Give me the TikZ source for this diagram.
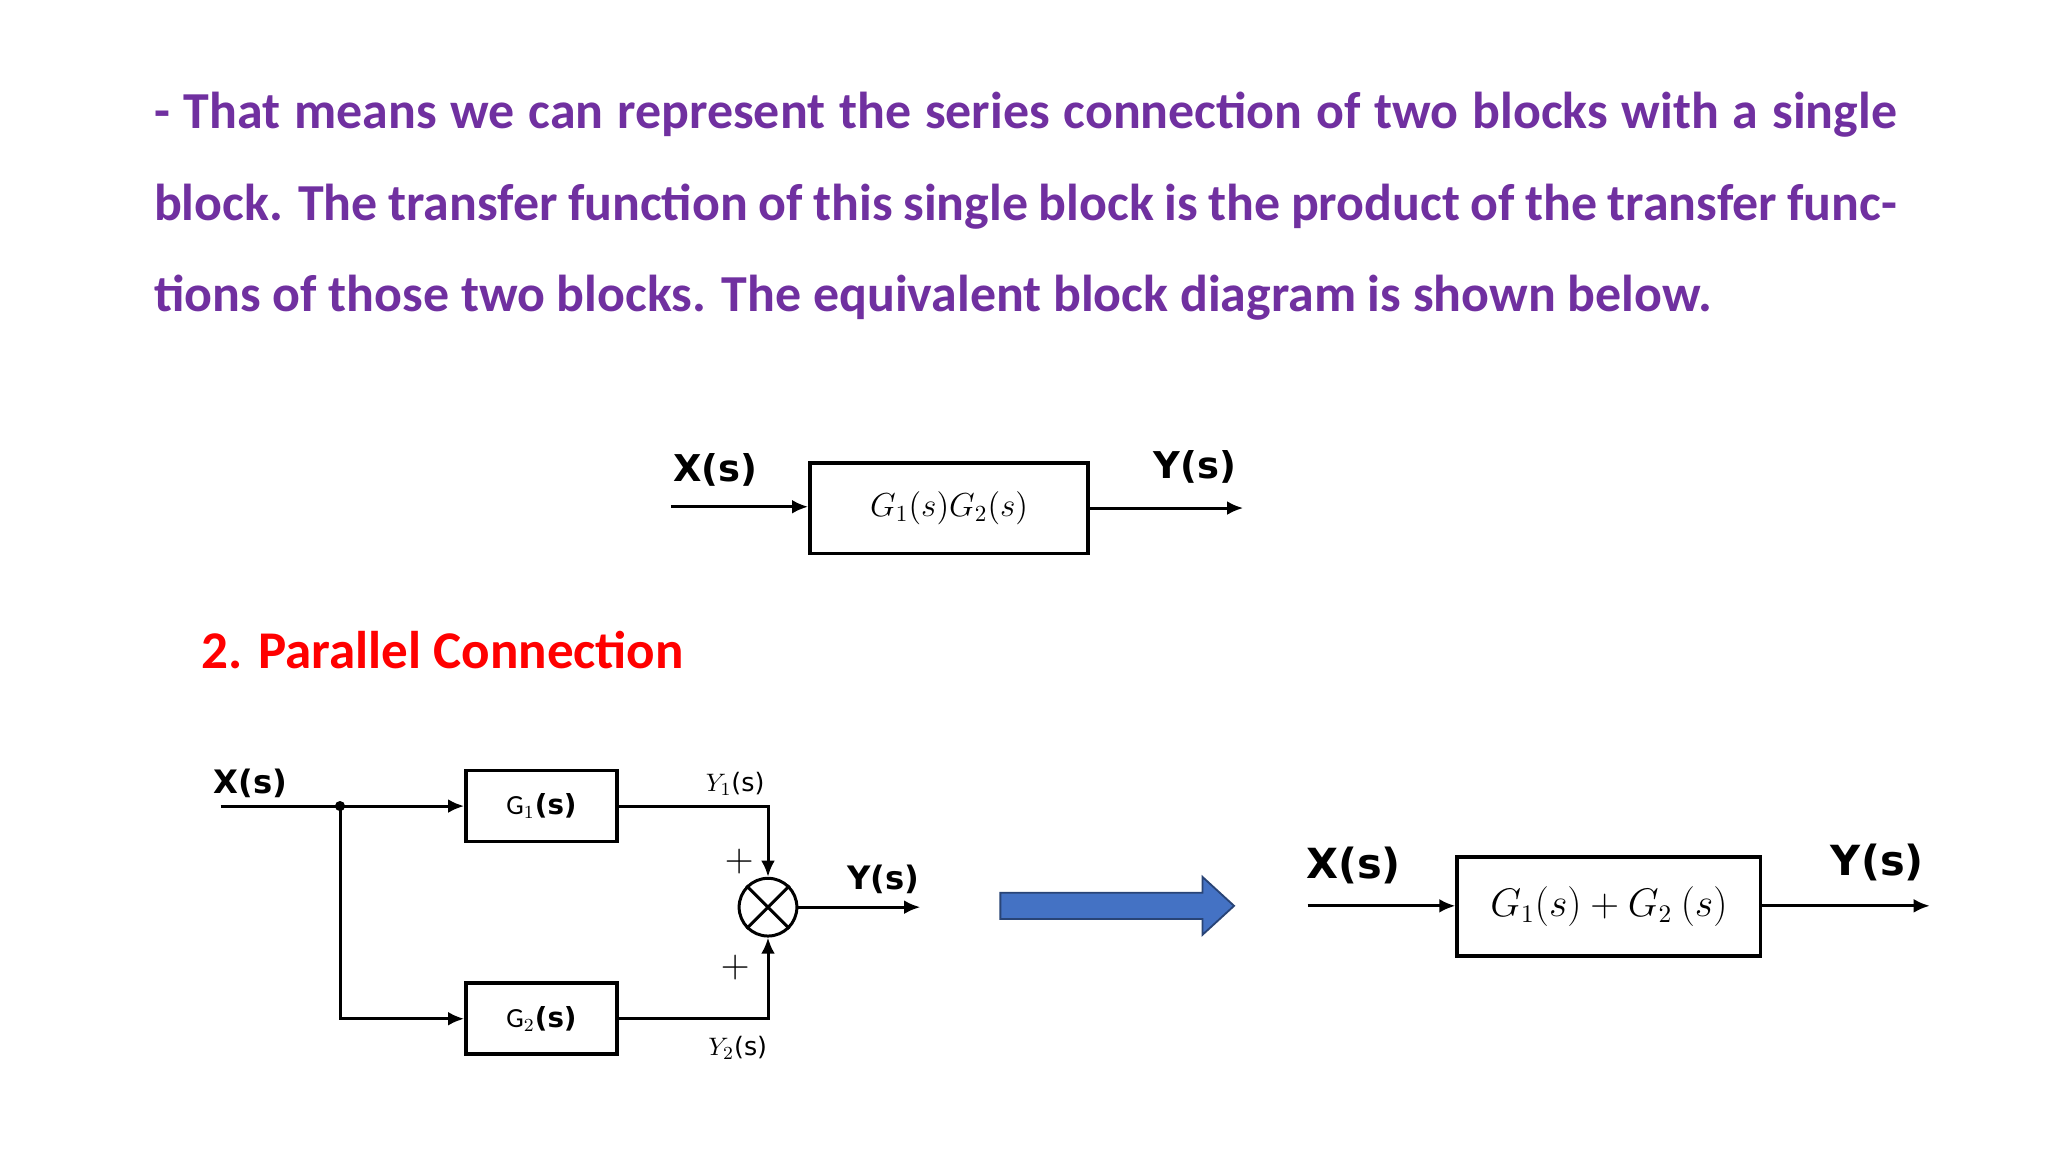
\documentclass[tikz,border=0pt]{standalone}
\usepackage{fontspec}
\setmainfont{Carlito}
\newfontfamily\dvs{DejaVu Sans}
\usetikzlibrary{arrows.meta}
\definecolor{purp}{RGB}{112,48,160}
\definecolor{barrow}{RGB}{68,114,196}
\begin{document}
\begin{tikzpicture}[x=0.02cm,y=-0.02cm,
 blk/.style={draw,line width=1.6pt,inner sep=0pt},
 ln/.style={line width=1.3pt},
 arr/.style={ln,-{Latex[length=7pt,width=6pt]}},
 lab/.style={font=\dvs\bfseries\fontsize{16}{16}\selectfont},
 slab/.style={font=\dvs\fontsize{11}{11}\selectfont}]
\useasboundingbox[fill=white] (0,0) rectangle (1560,877.5);
\node[anchor=north west,inner sep=0pt,text width=26.56cm,align=justify,text=purp,font=\bfseries\fontsize{22.5}{39.7}\selectfont] (para) at (117,70)
{- That means we can represent the series connection of two blocks with a single block. The transfer function of this single block is the product of the transfer functions of those two blocks. The equivalent block diagram is shown below.};
% series
\node[blk,minimum width=4.24cm,minimum height=1.38cm] (gs) at (723,387) {\fontsize{14}{14}\selectfont$G_1(s)G_2(s)$};
\coordinate (sin) at (511,386);
\coordinate (sout) at (947,387);
\draw[arr] (sin) -- (gs.west|-sin);
\draw[arr] (gs.east|-sout) -- (sout);
\node[lab] (sx) at (545,358) {X(s)};
\node[lab] (sy) at (910,356) {Y(s)};
% title
\node[anchor=west,inner sep=0pt,text=red,font=\bfseries\fontsize{23}{23}\selectfont] (ttl) at (153,495) {2. Parallel Connection};
% parallel
\node[blk,minimum width=2.3cm,minimum height=1.08cm] (g1) at (412.5,614) {\fontsize{12}{12}\selectfont G$_1$\dvs\bfseries(s)};
\node[blk,minimum width=2.3cm,minimum height=1.08cm] (g2) at (412.5,776) {\fontsize{12}{12}\selectfont G$_2$\dvs\bfseries(s)};
\node[draw,circle,line width=1.3pt,minimum size=0.88cm,inner sep=0pt] (sum) at (585,691) {};
\draw[ln] (sum.north west) -- (sum.south east) (sum.north east) -- (sum.south west);
\coordinate (pin) at (168,614);
\coordinate (br) at (259,614);
\coordinate (pout) at (701,691);
\fill (br) circle (2.2pt);
\draw[arr] (pin) -- (g1.west);
\draw[arr] (br) |- (g2.west);
\draw[arr] (g1.east) -| (sum.north);
\draw[arr] (g2.east) -| (sum.south);
\draw[arr] (sum.east) -- (pout);
\node[lab,font=\dvs\bfseries\fontsize{14}{14}\selectfont] (px) at (191,597) {X(s)};
\node[lab,font=\dvs\bfseries\fontsize{14}{14}\selectfont] (py) at (673,670) {Y(s)};
\node[slab] (y1) at (560,597) {$Y_1$(s)};
\node[slab] (y2) at (562,798) {$Y_2$(s)};
\node[font=\fontsize{18}{18}\selectfont] (p1) at (563,656) {$+$};
\node[font=\fontsize{18}{18}\selectfont] (p2) at (560,737) {$+$};
% big arrow
\draw[draw=barrow!60!black,fill=barrow,line width=0.8pt] (762,680) -- (916,680) -- (916,668) -- (940,690) -- (916,712) -- (916,700) -- (762,700) -- cycle;
% right
\node[blk,minimum width=4.62cm,minimum height=1.5cm] (gp) at (1225.5,690.5) {\fontsize{16}{16}\selectfont$G_1(s)+G_2\ (s)$};
\coordinate (rin) at (996,690);
\coordinate (rout) at (1470,690);
\draw[arr] (rin) -- (gp.west|-rin);
\draw[arr] (gp.east|-rout) -- (rout);
\node[lab,font=\dvs\bfseries\fontsize{18}{18}\selectfont] (rx) at (1031,659) {X(s)};
\node[lab,font=\dvs\bfseries\fontsize{18}{18}\selectfont] (ry) at (1430,657) {Y(s)};
\end{tikzpicture}
\end{document}
